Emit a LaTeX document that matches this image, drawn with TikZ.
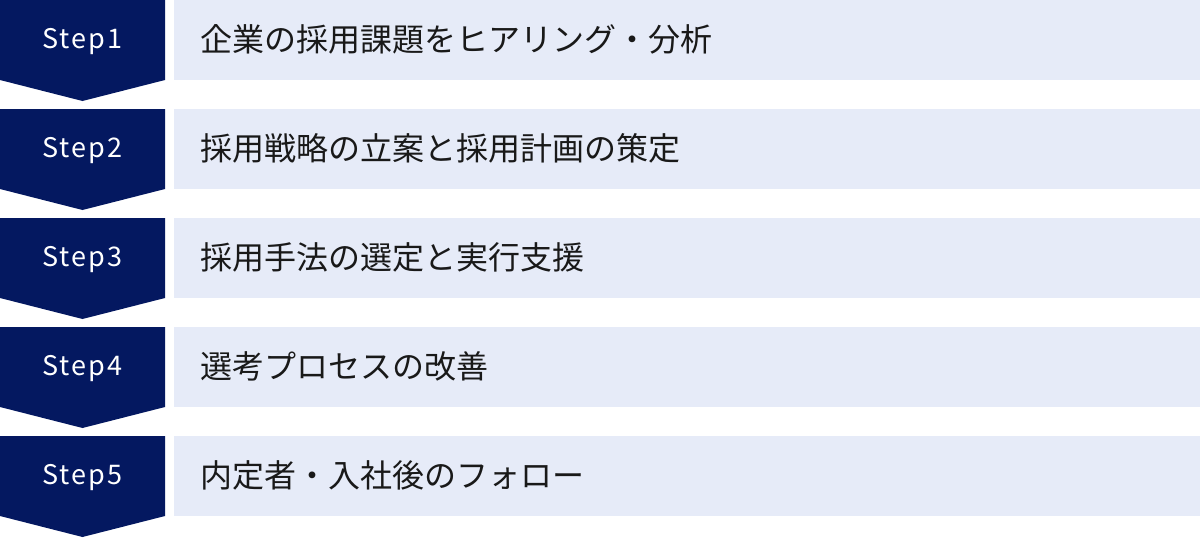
\documentclass[tikz,border=0pt]{standalone}
\usepackage{fontspec}
\setmainfont{Noto Sans CJK JP}
\definecolor{stepnavy}{RGB}{4,24,96}
\definecolor{steplight}{RGB}{230,235,248}
\tikzset{
    steplabel/.style={text=white,inner sep=0pt,font=\fontsize{27}{27}\selectfont\addfontfeature{LetterSpace=8}},
    stepitem/.style={anchor=west,inner sep=0pt,text=black!90,font=\fontsize{32}{32}\selectfont}
}
\begin{document}
\begin{tikzpicture}[x=1pt,y=-1pt]
    \useasboundingbox (0,0) rectangle (1200,538);
    \foreach \i/\n/\txt in {0/1/企業の採用課題をヒアリング・分析,
                            1/2/採用戦略の立案と採用計画の策定,
                            2/3/採用手法の選定と実行支援,
                            3/4/選考プロセスの改善,
                            4/5/内定者・入社後のフォロー} {
        \fill[stepnavy] (0,\i*109) -- (165,\i*109) -- (165,\i*109+80) -- (82.5,\i*109+101) -- (0,\i*109+80) -- cycle;
        \fill[steplight] (174,\i*109) rectangle (1200,\i*109+80);
        \node[steplabel] (step\n) at (82.5,\i*109+42) {Step\n};
        \node[stepitem] (item\n) at (200,\i*109+39) {\txt};
    }
\end{tikzpicture}
\end{document}
